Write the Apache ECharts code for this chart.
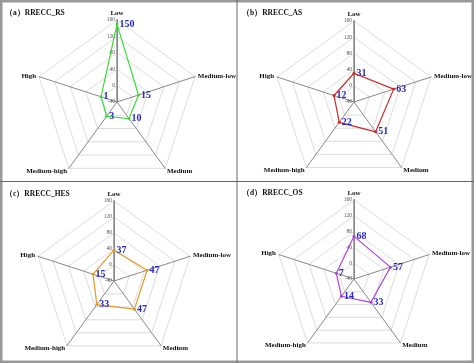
<!DOCTYPE html>
<html><head><meta charset="utf-8">
<script src="https://cdn.jsdelivr.net/npm/echarts@6/dist/echarts.min.js"></script>
<style>html,body{margin:0;padding:0;background:#fff}#c{width:474px;height:363px}</style>
</head><body><div id="c"></div>
<script>
const indicators = ['Low', 'Medium-low', 'Medium', 'Medium-high', 'High'];
const titles = ['（a）RRECC_RS', '（b）RRECC_AS', '（c）RRECC_HES', '（d）RRECC_OS'];
const rsValues = [150, 15, 10, 3, 1];
const asValues = [31, 63, 51, 22, 12];
const hesValues = [37, 47, 47, 33, 15];
const osValues = [68, 57, 33, 14, 7];
const tickLabels = [-40, 0, 40, 80, 120, 160];
const colors = ['#3ddc3d', '#d02828', '#e09a2a', '#b040e0'];

const allValues = [rsValues, asValues, hesValues, osValues];
const centers = [[117, 102], [354, 102], [114, 281], [354, 279]];
const radii = [82, 81, 80, 79];
const titlePos = [[0, 4], [237, 4], [0, 185], [237, 184]];
const serif = '"Liberation Serif","DejaVu Serif",serif';
// ECharts radar places indicators counter-clockwise; reorder for clockwise layout
const order = [0, 4, 3, 2, 1];

const chart = echarts.init(document.getElementById('c'));
const radar = [], polar = [], angleAxis = [], radiusAxis = [], series = [], title = [];
for (let i = 0; i < 4; i++) {
  radar.push({
    center: centers[i], radius: radii[i], startAngle: 90, splitNumber: 5,
    indicator: order.map(k => ({ name: indicators[k], min: tickLabels[0], max: tickLabels[tickLabels.length - 1] })),
    shape: 'polygon', nameGap: 3,
    axisName: { color: '#111', fontWeight: 'bold', fontFamily: serif, fontSize: 7 },
    axisLine: { lineStyle: { color: '#888', width: 1 } },
    splitLine: { lineStyle: { color: '#dcdcdc', width: 1 } },
    splitArea: { show: false }
  });
  polar.push({ center: centers[i], radius: radii[i] });
  angleAxis.push({ polarIndex: i, startAngle: 90, show: false, min: 0, max: 360 });
  radiusAxis.push({
    polarIndex: i, min: tickLabels[0], max: tickLabels[tickLabels.length - 1], interval: 40,
    axisLine: { show: true, lineStyle: { color: '#aaa', width: 2 } },
    axisTick: { show: false }, splitLine: { show: false },
    axisLabel: { fontSize: 5.5, color: '#555', fontFamily: serif, margin: 2 }
  });
  series.push({
    type: 'radar', radarIndex: i, symbol: 'circle', symbolSize: 3,
    lineStyle: { color: colors[i], width: 1.2 },
    itemStyle: { color: colors[i] },
    label: { show: true, position: 'right', distance: 1, color: '#2a2ac0', fontWeight: 'bold', fontFamily: serif, fontSize: 10 },
    data: [{ value: order.map(k => allValues[i][k]) }],
    z: 5
  });
  title.push({ text: titles[i], left: titlePos[i][0], top: titlePos[i][1],
    textStyle: { fontSize: 7.5, fontWeight: 'bold', fontFamily: serif, color: '#111' } });
}
chart.setOption({
  animation: false,
  title, radar, polar, angleAxis, radiusAxis, series,
  graphic: [
    { type: 'rect', shape: { x: 0, y: 0, width: 474, height: 363 }, style: { fill: 'none', stroke: '#999', lineWidth: 5 }, z: 100 },
    { type: 'line', shape: { x1: 237, y1: 0, x2: 237, y2: 363 }, style: { stroke: '#666', lineWidth: 1 }, z: 100 },
    { type: 'line', shape: { x1: 0, y1: 181.5, x2: 474, y2: 181.5 }, style: { stroke: '#666', lineWidth: 1 }, z: 100 }
  ]
});
</script></body></html>
